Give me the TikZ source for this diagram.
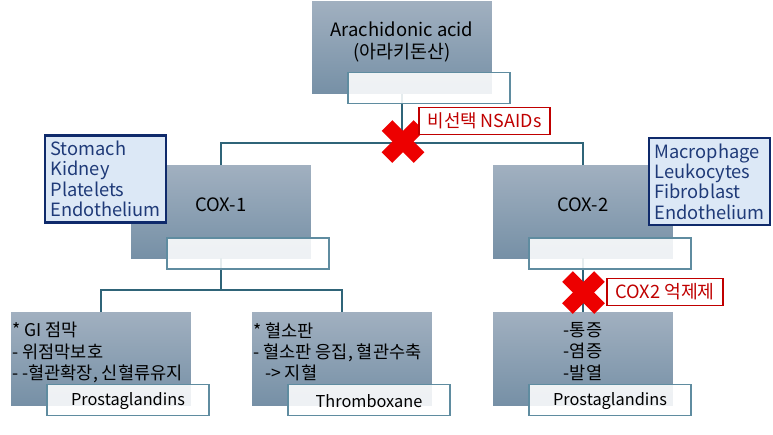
\documentclass[tikz,border=0pt]{standalone}
\usepackage{fontspec}
\setmainfont{Noto Sans CJK KR}
\definecolor{linkteal}{HTML}{2F6478}
\definecolor{labteal}{HTML}{5F8CA0}
\definecolor{navy}{HTML}{0F2A6B}
\definecolor{navytext}{HTML}{1F3A78}
\definecolor{paleblue}{HTML}{DCE8F6}
\definecolor{darkred}{HTML}{C00000}
\definecolor{greytop}{HTML}{A1B0C0}
\definecolor{greybot}{HTML}{7690A6}
\tikzset{
greybox/.style={minimum width=3.6cm,minimum height=1.86cm,inner sep=0,top color=greytop,bottom color=greybot},
labbox/.style={draw=labteal,line width=.6pt,fill=white,fill opacity=.88,minimum width=3.24cm,minimum height=.62cm,inner sep=0},
link/.style={draw=linkteal,line width=.7pt},
tissue/.style={draw=navy,line width=1.3pt,fill=paleblue,text=navytext,align=left,inner sep=0,minimum width=2.42cm,minimum height=1.74cm,font=\fontsize{10.4}{11.6}\selectfont},
redtag/.style={draw=darkred,line width=1pt,fill=white,text=darkred,inner sep=0,minimum height=.54cm},
boxtext/.style={inner sep=0,font=\fontsize{10}{12.2}\selectfont},
bigtext/.style={inner sep=0,font=\fontsize{10.5}{12.5}\selectfont},
labtext/.style={inner sep=0,font=\fontsize{9.3}{11}\selectfont}
}
\begin{document}
\begin{tikzpicture}[x=.02cm,y=-.02cm]
\newcommand{\RedCross}[2]{
\draw[red!93!black,line width=3mm](#1-16,#2-16)--(#1+16,#2+16);
\draw[red!93!black,line width=3mm](#1-16,#2+16)--(#1+16,#2-16);}
\useasboundingbox(0,0)rectangle(773,434);
% grey boxes
\node[greybox](acid)at(402,47.5){};
\node[greybox](cox1)at(221,211.5){};
\node[greybox](cox2)at(583,211.5){};
\node[greybox](gi)at(101,358.5){};
\node[greybox](plt)at(342,358.5){};
\node[greybox](pain)at(583,358.5){};
% connectors
\coordinate(topsplit)at(402,143);
\coordinate(leftsplit)at(221,290);
\draw[link](acid.south)--(topsplit);
\draw[link](cox1.north)|-(topsplit);
\draw[link](cox2.north)|-(topsplit);
\draw[link](cox1.south)--(leftsplit);
\draw[link](gi.north)|-(leftsplit);
\draw[link](plt.north)|-(leftsplit);
\draw[link](cox2.south)--(pain.north);
% white label boxes
\node[labbox](acidlab)at(429,88){};
\node[labbox](cox1lab)at(248,253.5){};
\node[labbox](cox2lab)at(610,253.5){};
\node[labbox](gilab)at(128,400){};
\node[labbox](pltlab)at(369,400){};
\node[labbox](painlab)at(610,400){};
% texts
\node[bigtext,align=center](acidtext)at(402,42){Arachidonic acid\\(아라키돈산)};
\node[bigtext](cox1text)at(221,205){COX-1};
\node[bigtext](cox2text)at(583,205){COX-2};
\node[boxtext,align=left,anchor=north west](gitext)at(12,322){* GI 점막\\- 위점막보호\\- -혈관확장, 신혈류유지};
\node[boxtext,align=left,anchor=north west](plttext)at(253,322){* 혈소판\\- 혈소판 응집, 혈관수축\\\ \ \ -> 지혈};
\node[boxtext,align=center,anchor=north](paintext)at(583,322){-통증\\-염증\\-발열};
\node[labtext](gilabtext)at(128,401){Prostaglandins};
\node[labtext](pltlabtext)at(369,401){Thromboxane};
\node[labtext](painlabtext)at(610,401){Prostaglandins};
\node[tissue,text width=2.2cm](tissue1)at(105.5,179){Stomach\\Kidney\\Platelets\\Endothelium};
\node[tissue,text width=2.2cm](tissue2)at(709.5,181.5){Macrophage\\Leukocytes\\Fibroblast\\Endothelium};
\RedCross{403}{141.5}
\RedCross{583.5}{292.5}
\node[redtag,minimum width=2.62cm,font=\fontsize{10.2}{11}\selectfont](nsaidtag)at(484.5,121){비선택 NSAIDs};
\node[redtag,minimum width=2.32cm,font=\fontsize{10.4}{11}\selectfont](coxtag)at(665,292){COX2 억제제};
\end{tikzpicture}
\end{document}
